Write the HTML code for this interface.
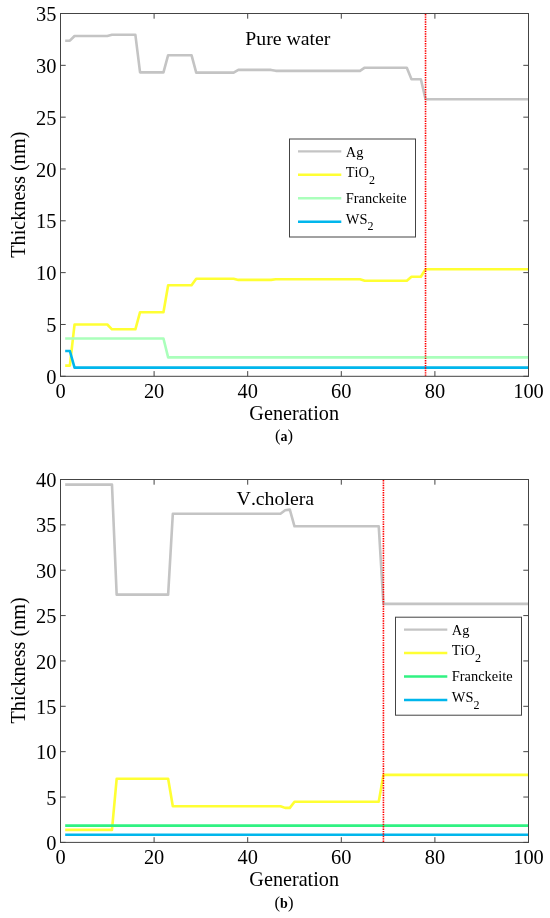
<!DOCTYPE html>
<html><head><meta charset="utf-8"><title>Thickness vs Generation</title>
<style>
html,body{margin:0;padding:0;background:#fff;}
svg{display:block;}
text{font-family:"Liberation Serif","Times New Roman",serif;fill:#000;font-kerning:none;}
.tk{font-size:20.4px;}
.lb{font-size:20.2px;}
.tt{font-size:19.8px;}
.lg{font-size:14.4px;}
.sb{font-size:12px;}
.cp{font-size:16.6px;}
</style></head>
<body>
<svg width="550" height="918" viewBox="0 0 550 918">
<rect width="550" height="918" fill="#fff"/>
<polyline points="65.18,40.70 69.86,40.70 74.54,36.00 107.30,36.00 111.98,34.80 135.38,34.80 140.06,72.40 163.46,72.40 168.14,55.20 191.54,55.20 196.22,72.60 233.66,72.60 238.34,69.90 271.10,69.90 275.78,70.85 360.02,70.85 364.70,67.70 406.82,67.70 411.50,79.20 420.86,79.20 425.54,99.30 528.50,99.30" fill="none" stroke="#c4c4c4" stroke-width="2.6" stroke-linejoin="round"/>
<polyline points="65.18,365.60 69.86,365.60 74.54,324.50 107.30,324.50 111.98,329.30 135.38,329.30 140.06,312.20 163.46,312.20 168.14,285.30 191.54,285.30 196.22,278.70 233.66,278.70 238.34,279.90 271.10,279.90 275.78,279.30 360.02,279.30 364.70,280.70 406.82,280.70 411.50,276.80 420.86,276.80 425.54,269.30 528.50,269.30" fill="none" stroke="#ffff33" stroke-width="2.6" stroke-linejoin="round"/>
<polyline points="65.18,338.50 163.46,338.50 168.14,357.40 528.50,357.40" fill="none" stroke="#aaffbb" stroke-width="2.6" stroke-linejoin="round"/>
<polyline points="65.18,351.00 69.86,351.00 74.54,367.60 528.50,367.60" fill="none" stroke="#00b6ec" stroke-width="2.6" stroke-linejoin="round"/>
<line x1="425.54" y1="14.0" x2="425.54" y2="375.8" stroke="#ff0000" stroke-width="1.6" stroke-dasharray="1.4 1.02"/>
<path d="M60.50 376.3v-5.2M60.50 13.5v5.2M154.10 376.3v-5.2M154.10 13.5v5.2M247.70 376.3v-5.2M247.70 13.5v5.2M341.30 376.3v-5.2M341.30 13.5v5.2M434.90 376.3v-5.2M434.90 13.5v5.2M528.50 376.3v-5.2M528.50 13.5v5.2M60.5 376.30h5.2M528.5 376.30h-5.2M60.5 324.47h5.2M528.5 324.47h-5.2M60.5 272.64h5.2M528.5 272.64h-5.2M60.5 220.81h5.2M528.5 220.81h-5.2M60.5 168.99h5.2M528.5 168.99h-5.2M60.5 117.16h5.2M528.5 117.16h-5.2M60.5 65.33h5.2M528.5 65.33h-5.2M60.5 13.50h5.2M528.5 13.50h-5.2" stroke="#444444" stroke-width="1" fill="none"/>
<path d="M60.5 13.5H528.5M60.5 376.3H528.5" stroke="#444444" stroke-width="1" fill="none"/>
<path d="M60.5 13.0V376.8M528.5 13.0V376.8" stroke="#444444" stroke-width="1" fill="none"/>
<text class="tk" x="60.50" y="398.3" text-anchor="middle">0</text>
<text class="tk" x="154.10" y="398.3" text-anchor="middle">20</text>
<text class="tk" x="247.70" y="398.3" text-anchor="middle">40</text>
<text class="tk" x="341.30" y="398.3" text-anchor="middle">60</text>
<text class="tk" x="434.90" y="398.3" text-anchor="middle">80</text>
<text class="tk" x="528.50" y="398.3" text-anchor="middle">100</text>
<text class="tk" x="56.4" y="383.90" text-anchor="end">0</text>
<text class="tk" x="56.4" y="332.07" text-anchor="end">5</text>
<text class="tk" x="56.4" y="280.24" text-anchor="end">10</text>
<text class="tk" x="56.4" y="228.41" text-anchor="end">15</text>
<text class="tk" x="56.4" y="176.59" text-anchor="end">20</text>
<text class="tk" x="56.4" y="124.76" text-anchor="end">25</text>
<text class="tk" x="56.4" y="72.93" text-anchor="end">30</text>
<text class="tk" x="56.4" y="21.10" text-anchor="end">35</text>
<rect x="289.5" y="139.0" width="126" height="98" fill="#fff" stroke="#444444" stroke-width="1"/>
<line x1="298.0" y1="151.4" x2="341.3" y2="151.4" stroke="#c4c4c4" stroke-width="2.4"/>
<line x1="298.0" y1="174.8" x2="341.3" y2="174.8" stroke="#ffff33" stroke-width="2.4"/>
<line x1="298.0" y1="198.3" x2="341.3" y2="198.3" stroke="#aaffbb" stroke-width="2.4"/>
<line x1="298.0" y1="221.8" x2="341.3" y2="221.8" stroke="#00b6ec" stroke-width="2.4"/>
<text class="lg" x="345.8" y="156.6">Ag</text>
<text class="lg" x="345.8" y="176.7">TiO<tspan class="sb" dy="6.9">2</tspan></text>
<text class="lg" x="345.8" y="203.2">Franckeite</text>
<text class="lg" x="345.8" y="223.5">WS<tspan class="sb" dy="6.9">2</tspan></text>
<text class="tt" x="245.3" y="45.3">Pure water</text>
<text class="lb" transform="translate(24.9 194.7) rotate(-90)" text-anchor="middle">Thickness (nm)</text>
<text class="lb" x="294.2" y="420" text-anchor="middle">Generation</text>
<text class="cp" x="284" y="441.2" text-anchor="middle">(<tspan font-weight="bold" font-size="14px">a</tspan>)</text>
<polyline points="65.18,484.60 111.98,484.60 116.66,594.60 168.14,594.60 172.82,513.80 280.46,513.80 285.14,510.30 289.82,509.60 294.50,526.30 378.74,526.30 383.42,603.90 528.50,603.90" fill="none" stroke="#c4c4c4" stroke-width="2.6" stroke-linejoin="round"/>
<polyline points="65.18,829.90 111.98,829.90 116.66,778.80 168.14,778.80 172.82,806.20 280.46,806.20 285.14,807.90 289.82,807.90 294.50,801.70 378.74,801.70 383.42,774.90 528.50,774.90" fill="none" stroke="#ffff33" stroke-width="2.6" stroke-linejoin="round"/>
<polyline points="65.18,825.65 528.50,825.65" fill="none" stroke="#30f282" stroke-width="2.6" stroke-linejoin="round"/>
<polyline points="65.18,834.75 528.50,834.75" fill="none" stroke="#00b6ec" stroke-width="2.6" stroke-linejoin="round"/>
<line x1="383.42" y1="480.0" x2="383.42" y2="841.9" stroke="#ff0000" stroke-width="1.6" stroke-dasharray="1.4 1.02"/>
<path d="M60.50 842.4v-5.2M60.50 479.5v5.2M154.10 842.4v-5.2M154.10 479.5v5.2M247.70 842.4v-5.2M247.70 479.5v5.2M341.30 842.4v-5.2M341.30 479.5v5.2M434.90 842.4v-5.2M434.90 479.5v5.2M528.50 842.4v-5.2M528.50 479.5v5.2M60.5 842.40h5.2M528.5 842.40h-5.2M60.5 797.04h5.2M528.5 797.04h-5.2M60.5 751.67h5.2M528.5 751.67h-5.2M60.5 706.31h5.2M528.5 706.31h-5.2M60.5 660.95h5.2M528.5 660.95h-5.2M60.5 615.59h5.2M528.5 615.59h-5.2M60.5 570.23h5.2M528.5 570.23h-5.2M60.5 524.86h5.2M528.5 524.86h-5.2M60.5 479.50h5.2M528.5 479.50h-5.2" stroke="#444444" stroke-width="1" fill="none"/>
<path d="M60.5 479.5H528.5M60.5 842.4H528.5" stroke="#444444" stroke-width="1" fill="none"/>
<path d="M60.5 479.0V842.9M528.5 479.0V842.9" stroke="#444444" stroke-width="1" fill="none"/>
<text class="tk" x="60.50" y="864.4" text-anchor="middle">0</text>
<text class="tk" x="154.10" y="864.4" text-anchor="middle">20</text>
<text class="tk" x="247.70" y="864.4" text-anchor="middle">40</text>
<text class="tk" x="341.30" y="864.4" text-anchor="middle">60</text>
<text class="tk" x="434.90" y="864.4" text-anchor="middle">80</text>
<text class="tk" x="528.50" y="864.4" text-anchor="middle">100</text>
<text class="tk" x="56.4" y="850.00" text-anchor="end">0</text>
<text class="tk" x="56.4" y="804.64" text-anchor="end">5</text>
<text class="tk" x="56.4" y="759.27" text-anchor="end">10</text>
<text class="tk" x="56.4" y="713.91" text-anchor="end">15</text>
<text class="tk" x="56.4" y="668.55" text-anchor="end">20</text>
<text class="tk" x="56.4" y="623.19" text-anchor="end">25</text>
<text class="tk" x="56.4" y="577.83" text-anchor="end">30</text>
<text class="tk" x="56.4" y="532.46" text-anchor="end">35</text>
<text class="tk" x="56.4" y="487.10" text-anchor="end">40</text>
<rect x="395.5" y="617.2" width="126" height="98" fill="#fff" stroke="#444444" stroke-width="1"/>
<line x1="404.0" y1="629.6" x2="447.3" y2="629.6" stroke="#c4c4c4" stroke-width="2.4"/>
<line x1="404.0" y1="653.0" x2="447.3" y2="653.0" stroke="#ffff33" stroke-width="2.4"/>
<line x1="404.0" y1="676.5" x2="447.3" y2="676.5" stroke="#30f282" stroke-width="2.4"/>
<line x1="404.0" y1="700.0" x2="447.3" y2="700.0" stroke="#00b6ec" stroke-width="2.4"/>
<text class="lg" x="451.8" y="634.8000000000001">Ag</text>
<text class="lg" x="451.8" y="654.9000000000001">TiO<tspan class="sb" dy="6.9">2</tspan></text>
<text class="lg" x="451.8" y="681.4000000000001">Franckeite</text>
<text class="lg" x="451.8" y="701.7">WS<tspan class="sb" dy="6.9">2</tspan></text>
<text class="tt" x="236.6" y="505.0">V.cholera</text>
<text class="lb" transform="translate(24.9 660.4) rotate(-90)" text-anchor="middle">Thickness (nm)</text>
<text class="lb" x="294.2" y="886" text-anchor="middle">Generation</text>
<text class="cp" x="284" y="907.7" text-anchor="middle">(<tspan font-weight="bold" font-size="14px">b</tspan>)</text>
</svg>
</body></html>
